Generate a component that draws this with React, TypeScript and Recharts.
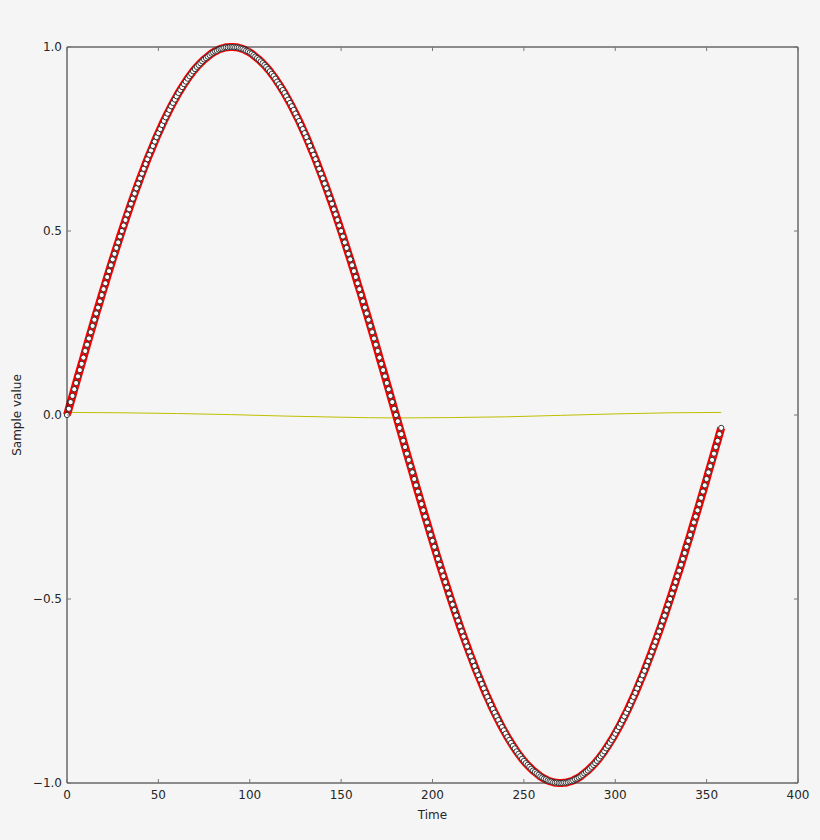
import { LineChart, Line, XAxis, YAxis } from 'recharts';

// sampled values, one per time step (0..358)
const sampleValues = [
  0, 0.017, 0.035, 0.052, 0.07, 0.087, 0.105, 0.122, 0.139, 0.156,
  0.174, 0.191, 0.208, 0.225, 0.242, 0.259, 0.276, 0.292, 0.309, 0.326,
  0.342, 0.358, 0.375, 0.391, 0.407, 0.423, 0.438, 0.454, 0.469, 0.485,
  0.5, 0.515, 0.53, 0.545, 0.559, 0.574, 0.588, 0.602, 0.616, 0.629,
  0.643, 0.656, 0.669, 0.682, 0.695, 0.707, 0.719, 0.731, 0.743, 0.755,
  0.766, 0.777, 0.788, 0.799, 0.809, 0.819, 0.829, 0.839, 0.848, 0.857,
  0.866, 0.875, 0.883, 0.891, 0.899, 0.906, 0.914, 0.921, 0.927, 0.934,
  0.94, 0.946, 0.951, 0.956, 0.961, 0.966, 0.97, 0.974, 0.978, 0.982,
  0.985, 0.988, 0.99, 0.993, 0.995, 0.996, 0.998, 0.999, 0.999, 1,
  1, 1, 0.999, 0.999, 0.998, 0.996, 0.995, 0.993, 0.99, 0.988,
  0.985, 0.982, 0.978, 0.974, 0.97, 0.966, 0.961, 0.956, 0.951, 0.946,
  0.94, 0.934, 0.927, 0.921, 0.914, 0.906, 0.899, 0.891, 0.883, 0.875,
  0.866, 0.857, 0.848, 0.839, 0.829, 0.819, 0.809, 0.799, 0.788, 0.777,
  0.766, 0.755, 0.743, 0.731, 0.719, 0.707, 0.695, 0.682, 0.669, 0.656,
  0.643, 0.629, 0.616, 0.602, 0.588, 0.574, 0.559, 0.545, 0.53, 0.515,
  0.5, 0.485, 0.469, 0.454, 0.438, 0.423, 0.407, 0.391, 0.375, 0.358,
  0.342, 0.326, 0.309, 0.292, 0.276, 0.259, 0.242, 0.225, 0.208, 0.191,
  0.174, 0.156, 0.139, 0.122, 0.105, 0.087, 0.07, 0.052, 0.035, 0.017,
  0, -0.017, -0.035, -0.052, -0.07, -0.087, -0.105, -0.122, -0.139, -0.156,
  -0.174, -0.191, -0.208, -0.225, -0.242, -0.259, -0.276, -0.292, -0.309, -0.326,
  -0.342, -0.358, -0.375, -0.391, -0.407, -0.423, -0.438, -0.454, -0.469, -0.485,
  -0.5, -0.515, -0.53, -0.545, -0.559, -0.574, -0.588, -0.602, -0.616, -0.629,
  -0.643, -0.656, -0.669, -0.682, -0.695, -0.707, -0.719, -0.731, -0.743, -0.755,
  -0.766, -0.777, -0.788, -0.799, -0.809, -0.819, -0.829, -0.839, -0.848, -0.857,
  -0.866, -0.875, -0.883, -0.891, -0.899, -0.906, -0.914, -0.921, -0.927, -0.934,
  -0.94, -0.946, -0.951, -0.956, -0.961, -0.966, -0.97, -0.974, -0.978, -0.982,
  -0.985, -0.988, -0.99, -0.993, -0.995, -0.996, -0.998, -0.999, -0.999, -1,
  -1, -1, -0.999, -0.999, -0.998, -0.996, -0.995, -0.993, -0.99, -0.988,
  -0.985, -0.982, -0.978, -0.974, -0.97, -0.966, -0.961, -0.956, -0.951, -0.946,
  -0.94, -0.934, -0.927, -0.921, -0.914, -0.906, -0.899, -0.891, -0.883, -0.875,
  -0.866, -0.857, -0.848, -0.839, -0.829, -0.819, -0.809, -0.799, -0.788, -0.777,
  -0.766, -0.755, -0.743, -0.731, -0.719, -0.707, -0.695, -0.682, -0.669, -0.656,
  -0.643, -0.629, -0.616, -0.602, -0.588, -0.574, -0.559, -0.545, -0.53, -0.515,
  -0.5, -0.485, -0.469, -0.454, -0.438, -0.423, -0.407, -0.391, -0.375, -0.358,
  -0.342, -0.326, -0.309, -0.292, -0.276, -0.259, -0.242, -0.225, -0.208, -0.191,
  -0.174, -0.156, -0.139, -0.122, -0.105, -0.087, -0.07, -0.052, -0.035,
];

// the thin yellow trace near zero, read at a few times
const driftTimes = [0, 30, 60, 90, 120, 150, 180, 210, 240, 270, 300, 330, 358];
const driftValues = [0.007, 0.006, 0.004, 0.001, -0.003, -0.006, -0.008, -0.007, -0.005, -0.001, 0.003, 0.006, 0.007];

const xTicks = [0, 50, 100, 150, 200, 250, 300, 350, 400];
const yTicks = [-1, -0.5, 0, 0.5, 1];

const samples = sampleValues.map((v, i) => ({ time: i, value: v }));
const drift = driftTimes.map((t, i) => ({ time: t, value: driftValues[i] }));

const FONT = 'DejaVu Sans, sans-serif';
const TEXT = '#262626';
const TICK = '#777';
const FRAME = '#222';
const TS = 6; // recharts tick size; ticks are drawn inward by hand

const fmtY = (v: number) => v.toFixed(1).replace('-', '\u2212');

const BottomTick = ({ x, y, payload }: any) => (
  <g>
    <line x1={x} x2={x} y1={y - TS} y2={y - TS - 4} stroke={TICK} />
    <text x={x} y={y + 10} textAnchor="middle" fill={TEXT} fontSize={12} fontFamily={FONT}>
      {payload.value}
    </text>
  </g>
);

const TopTick = ({ x, y }: any) => (
  <line x1={x} x2={x} y1={y + TS} y2={y + TS + 4} stroke={TICK} />
);

const LeftTick = ({ x, y, payload }: any) => (
  <g>
    <line x1={x + TS} x2={x + TS + 4} y1={y} y2={y} stroke={TICK} />
    <text x={x + 1} y={y + 4} textAnchor="end" fill={TEXT} fontSize={12} fontFamily={FONT}>
      {fmtY(payload.value)}
    </text>
  </g>
);

const RightTick = ({ x, y }: any) => (
  <line x1={x - TS} x2={x - TS - 4} y1={y} y2={y} stroke={TICK} />
);

export default function App() {
  return (
    <div style={{ position: 'absolute', left: 0, top: 0, width: 820, height: 840, background: '#f5f5f5' }}>
      <LineChart width={820} height={840} data={samples} margin={{ top: 46, right: 21, left: 0, bottom: 0 }}>
        <XAxis
          dataKey="time"
          type="number"
          domain={[0, 400]}
          ticks={xTicks}
          height={57}
          tickSize={TS}
          tickMargin={0}
          tickLine={false}
          axisLine={{ stroke: FRAME }}
          tick={<BottomTick />}
          label={{ value: 'Time', position: 'insideBottom', offset: 21, fill: TEXT, fontSize: 12, fontFamily: FONT }}
        />
        <XAxis
          xAxisId="top"
          orientation="top"
          dataKey="time"
          type="number"
          domain={[0, 400]}
          ticks={xTicks}
          height={1}
          tickSize={TS}
          tickMargin={0}
          tickLine={false}
          axisLine={{ stroke: FRAME }}
          tick={<TopTick />}
        />
        <YAxis
          type="number"
          domain={[-1, 1]}
          ticks={yTicks}
          width={67}
          tickSize={TS}
          tickMargin={0}
          tickLine={false}
          axisLine={{ stroke: FRAME }}
          tick={<LeftTick />}
          label={{
            content: ({ viewBox }: any) => {
              const cx = viewBox.x + 21;
              const cy = viewBox.y + viewBox.height / 2;
              return (
                <text x={cx} y={cy} transform={`rotate(-90 ${cx} ${cy})`} textAnchor="middle" fill={TEXT} fontSize={12} fontFamily={FONT}>
                  Sample value
                </text>
              );
            },
          }}
        />
        <YAxis
          yAxisId="right"
          orientation="right"
          type="number"
          domain={[-1, 1]}
          ticks={yTicks}
          width={1}
          tickSize={TS}
          tickMargin={0}
          tickLine={false}
          axisLine={{ stroke: FRAME }}
          tick={<RightTick />}
        />
        <Line
          data={drift}
          xAxisId="top"
          yAxisId="right"
          dataKey="value"
          type="monotone"
          stroke="#bfbf00"
          strokeWidth={1}
          dot={false}
          isAnimationActive={false}
        />
        <Line
          dataKey="value"
          type="linear"
          stroke="#ff0000"
          strokeWidth={8}
          dot={{ r: 2.6, fill: '#ffffff', stroke: '#222', strokeWidth: 0.9 }}
          isAnimationActive={false}
        />
      </LineChart>
    </div>
  );
}
